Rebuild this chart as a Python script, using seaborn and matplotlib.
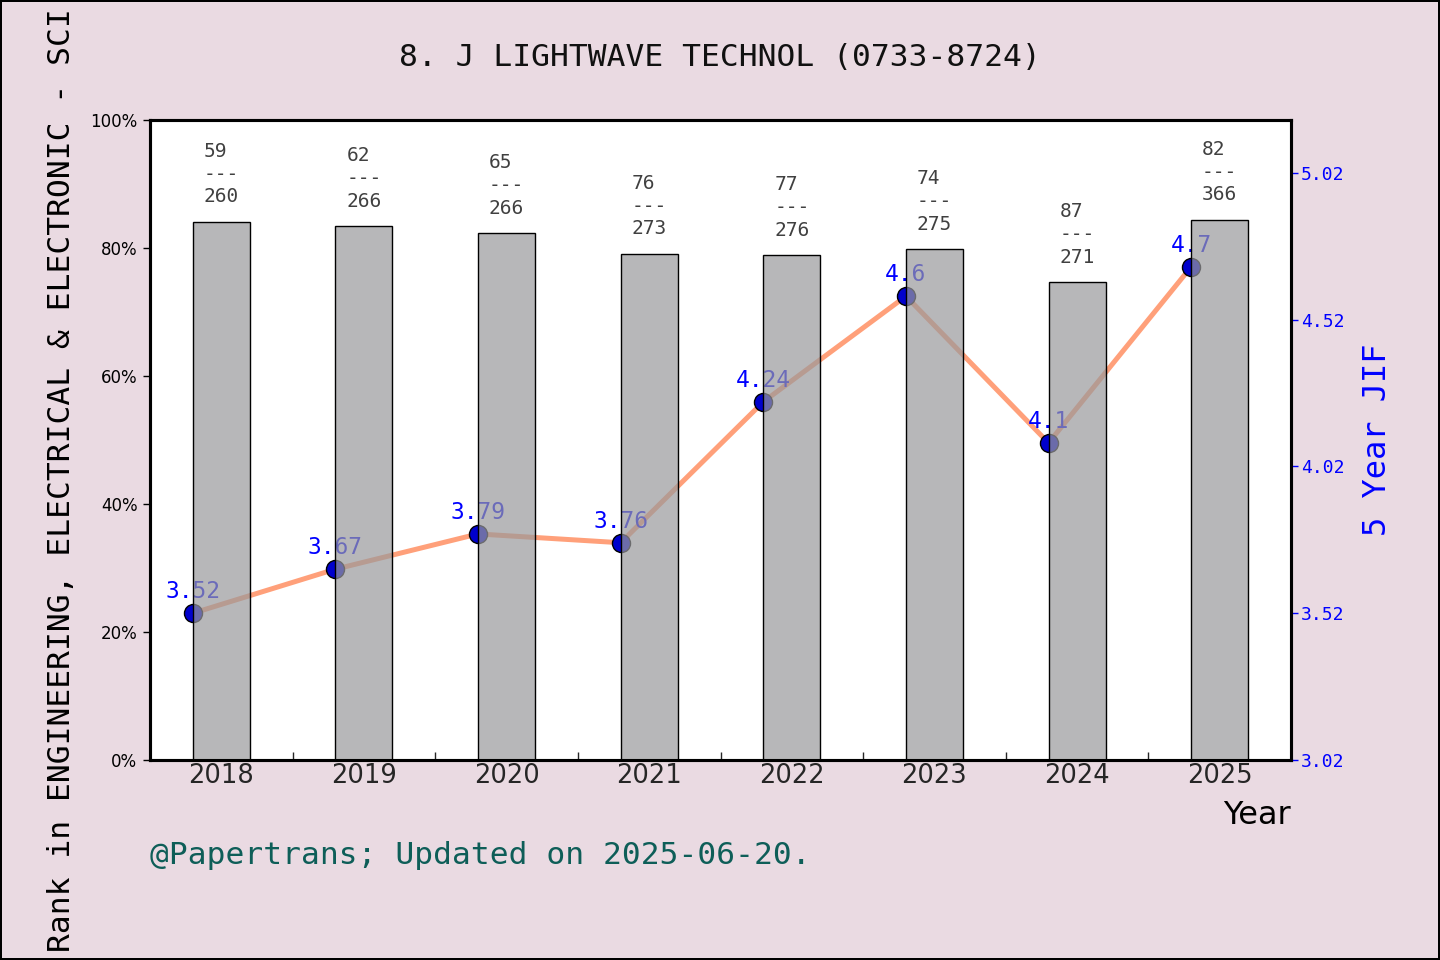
import numpy as np
import pandas as pd
import seaborn as sns
import matplotlib.pyplot as plt
from matplotlib.ticker import FixedLocator, PercentFormatter

# === Data ===
years = ["2018", "2019", "2020", "2021", "2022", "2023", "2024", "2025"]
rank_pct = [84.1, 83.4, 82.3, 79.1, 78.9, 79.8, 74.7, 84.4]
ranks = [59, 62, 65, 76, 77, 74, 87, 82]
totals = [260, 266, 266, 273, 276, 275, 271, 366]
jif5 = [3.52, 3.67, 3.79, 3.76, 4.24, 4.6, 4.1, 4.7]

title = "8. J LIGHTWAVE TECHNOL (0733-8724)"
left_label = "Rank in ENGINEERING, ELECTRICAL & ELECTRONIC - SCI"
footer = "@Papertrans; Updated on 2025-06-20."

bg = "#EADAE2"
mono = "DejaVu Sans Mono"

sns.set_theme(style="white")
plt.rcParams["font.family"] = ["DejaVu Sans"]

fig = plt.figure(figsize=(14.4, 9.6), dpi=100, facecolor=bg,
                 edgecolor="black", linewidth=1.5)
ax = fig.add_axes([150 / 1440, 1 - 760 / 960, 1141 / 1440, 640 / 960])
ax2 = ax.twinx()

# bars on top of the line axis (semi-transparent)
ax.set_zorder(2)
ax2.set_zorder(1)
ax.patch.set_visible(False)
ax2.patch.set_facecolor("white")
ax2.patch.set_visible(True)

df = pd.DataFrame({"year": years, "pct": rank_pct})
sns.barplot(data=df, x="year", y="pct", width=0.4, ax=ax)
for p in ax.patches:
    p.set_facecolor((0.60, 0.60, 0.61, 0.7))
    p.set_edgecolor("black")
    p.set_linewidth(1.0)

# rank / total labels
for i, (r, t, h) in enumerate(zip(ranks, totals, rank_pct)):
    ax.text(i, h + 2.4, f"{r}\n---\n{t}", ha="center", va="bottom",
            multialignment="left", fontsize=14, color="#404040",
            family=mono, linespacing=1.25)

# JIF line, placed at the left edge of each bar
xpos = np.arange(len(years)) - 0.2
sns.lineplot(x=xpos, y=jif5, ax=ax2, color="#FFA07A", linewidth=3.6,
             marker="o", markersize=13, markerfacecolor="#0000CD",
             markeredgecolor="black", markeredgewidth=1.0)
for x, v in zip(xpos, jif5):
    ax2.annotate(f"{v:g}", (x, v), xytext=(0, 7), textcoords="offset points",
                 ha="center", va="bottom", color="blue", fontsize=16.5,
                 family=mono)

# axes limits and ticks
ax.set_xlim(-0.5, len(years) - 0.5)
ax.set_ylim(0, 100)
ax2.set_ylim(min(jif5) - 0.5, max(jif5) + 0.5)

ax.yaxis.set_major_locator(FixedLocator([0, 20, 40, 60, 80, 100]))
ax.yaxis.set_major_formatter(PercentFormatter(decimals=0))
ax.tick_params(axis="y", direction="out", length=5, width=1, labelsize=12,
               left=True, colors="black", pad=4)
ax.set_xticks(range(len(years)))
ax.set_xticklabels(years)
ax.tick_params(axis="x", length=0, labelsize=18.5, pad=2)
ax.xaxis.set_minor_locator(FixedLocator(np.arange(0.5, len(years) - 1, 1)))
ax.tick_params(axis="x", which="minor", direction="in", length=6, width=1,
               bottom=True)

jif_ticks = np.arange(3.02, 5.03, 0.5)
ax2.set_yticks(jif_ticks)
ax2.set_yticklabels([f"{v:.2f}" for v in jif_ticks], family=mono)
ax2.tick_params(axis="y", direction="out", length=5, width=1, labelsize=13,
                colors="blue", right=True, pad=2)

for a in (ax, ax2):
    for s in a.spines.values():
        s.set_visible(True)
        s.set_color("black")
        s.set_linewidth(2.2)

ax.set_ylabel("")
ax.set_xlabel("Year", loc="right", fontsize=23, labelpad=8, color="black")
ax2.set_ylabel("5 Year JIF", color="blue", fontsize=23, family=mono,
               labelpad=13)

fig.text(0.5, 1 - 57 / 960, title, ha="center", va="center", fontsize=22.5,
         family=mono, color="#111111")
fig.text(62 / 1440, 1 - 480 / 960, left_label, rotation=90, ha="center",
         va="center", fontsize=22.5, family=mono, color="black")
fig.text(150 / 1440, 1 - 855 / 960, footer, ha="left", va="center",
         fontsize=22.5, family=mono, color="#0E5E58")

fig.savefig("out.png", dpi=100, facecolor=bg, edgecolor="black")
